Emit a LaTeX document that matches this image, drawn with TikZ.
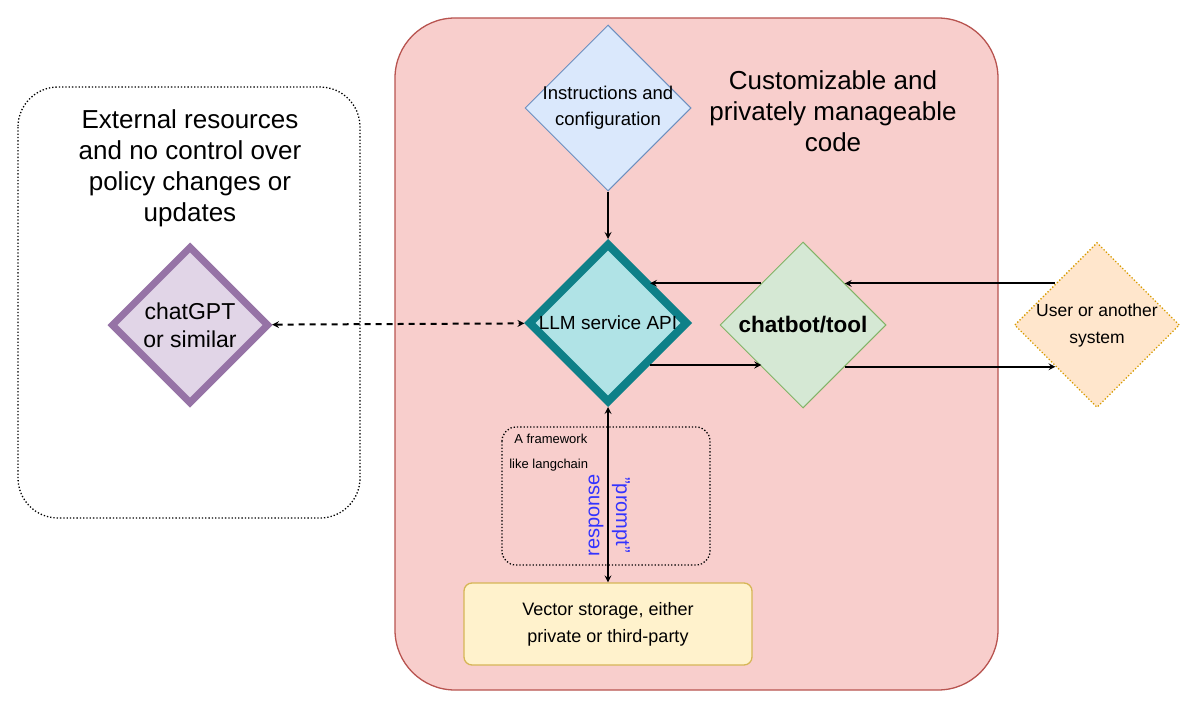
\documentclass[tikz,border=0pt]{standalone}
\usepackage{fontspec}
\setmainfont{Liberation Sans}
\usetikzlibrary{arrows,shapes,shapes.geometric,calc,positioning}
\definecolor{redfill}{HTML}{F8CECC}
\definecolor{redline}{HTML}{B85450}
\definecolor{purfill}{HTML}{E1D5E7}
\definecolor{purline}{HTML}{9673A6}
\definecolor{bluefill}{HTML}{DAE8FC}
\definecolor{blueline}{HTML}{6C8EBF}
\definecolor{tealfill}{HTML}{B0E3E6}
\definecolor{tealline}{HTML}{0E8088}
\definecolor{greenfill}{HTML}{D5E8D4}
\definecolor{greenline}{HTML}{82B366}
\definecolor{orfill}{HTML}{FFE6CC}
\definecolor{orline}{HTML}{D79B00}
\definecolor{yelfill}{HTML}{FFF2CC}
\definecolor{yelline}{HTML}{D6B656}
\definecolor{labblue}{HTML}{3333FF}
\tikzstyle{edge}  =[>={stealth[scale=1.5]}, line width=2pt]
\tikzstyle{dia}   =[diamond, draw, aspect=1, inner sep=0pt,
                    align=center, font=\fontsize{19}{24}\selectfont]
\tikzstyle{title} =[align=center, font=\fontsize{26}{31}\selectfont]

\begin{document}
\begin{tikzpicture}[x=1pt, y=-1pt, edge]
    \useasboundingbox (0,0) rectangle (1200,709);
    % frames
    \draw[black, line width=1.3pt, dotted, rounded corners=40pt]
        (18,87) rectangle (360,518);
    \draw[redline, fill=redfill, line width=1.3pt, rounded corners=60pt]
        (395,18) rectangle (998,690);
    \node[title] (ext) at (190,168) {External resources\\and no control over\\policy changes or\\updates};
    \node[title] (cust) at (833,111) {Customizable and\\privately manageable\\code};
    \draw[black, line width=1.3pt, dotted, rounded corners=14pt]
        (502,427) rectangle (710,565);
    \node[anchor=north west, font=\fontsize{13}{15}\selectfont] (fw1) at (510,430) {A framework};
    \node[anchor=north west, font=\fontsize{13}{15}\selectfont] (fw2) at (505,455) {like langchain};

    % nodes
    \node[dia, fill=purfill, draw=purline, line width=7pt, minimum size=158pt,
          font=\fontsize{23}{28}\selectfont] (gpt) at (190,325) {chatGPT\\or similar};
    \node[dia, fill=bluefill, draw=blueline, line width=1pt, inner sep=-11pt,
          minimum size=166pt, font=\fontsize{18.5}{26}\selectfont] (inst) at (608,108) {Instructions and\\configuration};
    \node[dia, fill=tealfill, draw=tealline, line width=8pt, minimum size=160pt] (llm) at (608,323) {LLM service API};
    \node[dia, fill=greenfill, draw=greenline, line width=1pt, minimum size=166pt,
          font=\fontsize{22.5}{27}\selectfont\bfseries] (chat) at (803,325) {chatbot/tool};
    \node[dia, fill=orfill, draw=orline, line width=1.3pt, dotted, minimum size=164pt,
          font=\fontsize{17.5}{27}\selectfont] (user) at (1097,325) {User or another\\system};
    \node[draw=yelline, fill=yelfill, line width=1.3pt, rounded corners=8pt,
          minimum width=288pt, minimum height=82pt, align=center,
          font=\fontsize{18}{27}\selectfont] (vec) at (608,624) {Vector storage, either\\private or third-party};

    % connectors
    \draw[->] (inst) to (llm);
    \draw[<->, dash pattern=on 6pt off 5pt] (gpt) to (llm);
    \draw[->] (user.north west) to (chat.north east |- user.north west);
    \draw[->] (chat.north west) to (llm.north east |- chat.north west);
    \draw[->] (llm.south east) to (chat.south west |- llm.south east);
    \draw[->] (chat.south east) to (user.south west |- chat.south east);
    \draw[<->] (llm) to (vec);
    \node[rotate=90, text=labblue, font=\fontsize{20}{24}\selectfont] (resp) at (596,515) {response};
    \node[rotate=-90, text=labblue, font=\fontsize{20}{24}\selectfont] (prom) at (621,515) {"prompt"};
\end{tikzpicture}
\end{document}
